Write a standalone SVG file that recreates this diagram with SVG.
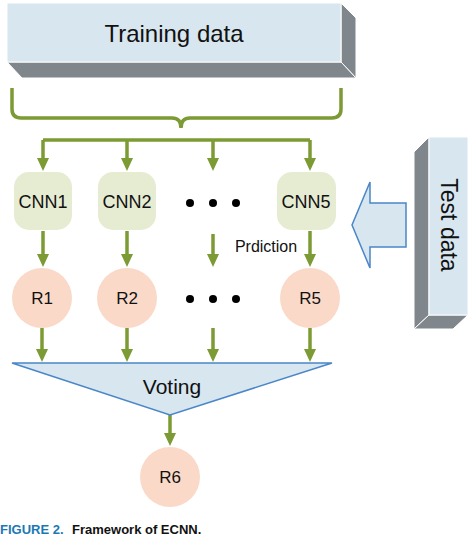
<svg xmlns="http://www.w3.org/2000/svg" width="474" height="540" viewBox="0 0 474 540">
<defs>
<marker id="ah" markerWidth="13" markerHeight="12" refX="0" refY="6" orient="auto" markerUnits="userSpaceOnUse" viewBox="0 0 13 12">
<path d="M0,0 L13,6 L0,12 Z" fill="#7C9B35"/>
</marker>
</defs>
<style>
.t{font-family:"Liberation Sans",Arial,sans-serif;fill:#111;text-anchor:middle}
.g{stroke:#7C9B35;stroke-width:3.5;fill:none}
.face{fill:#D7E6EF;stroke:#fff;stroke-width:1}
.dark{fill:#7F878D;stroke:#fff;stroke-width:1}
.cnn{fill:#E6ECD2}
.res{fill:#FAD9C8}
.blue{fill:#D7E6EF;stroke:#4A86C8;stroke-width:1.5}
</style>
<rect width="474" height="540" fill="#fff"/>

<g id="training-data">
<polygon class="dark" points="341,3 356,18 356,78 341,62"/>
<polygon class="dark" points="7,62 341,62 356,78 22,78"/>
<rect class="face" x="7" y="3" width="334" height="59"/>
<text class="t" x="174" y="42" font-size="24">Training data</text>
</g>

<g id="test-data">
<polygon class="dark" points="414,152 429,137 429,315 414,329"/>
<polygon class="dark" points="429,315 468,315 453,329 414,329"/>
<rect class="face" x="429" y="137" width="39" height="178"/>
<text class="t" transform="translate(441,225) rotate(90)" font-size="23">Test data</text>
</g>

<g id="test-arrow">
<polygon class="blue" points="406,203 370,203 370,182 352,225 370,268 370,247 406,247"/>
</g>

<g id="connectors">
<path class="g" d="M12,88 V109 Q12,118 21,118 H172 Q181,118 181,128 Q181,118 190,118 H332 Q341,118 341,109 V88"/>
<path class="g" d="M43,140 H310"/>
<path class="g" d="M43,140 V158" marker-end="url(#ah)"/>
<path class="g" d="M127,140 V158" marker-end="url(#ah)"/>
<path class="g" d="M213,140 V158" marker-end="url(#ah)"/>
<path class="g" d="M310,140 V158" marker-end="url(#ah)"/>
<path class="g" d="M43,231 V254" marker-end="url(#ah)"/>
<path class="g" d="M127,231 V254" marker-end="url(#ah)"/>
<path class="g" d="M213,234 V254" marker-end="url(#ah)"/>
<path class="g" d="M310,231 V254" marker-end="url(#ah)"/>
<path class="g" d="M42,328 V349" marker-end="url(#ah)"/>
<path class="g" d="M127,328 V349" marker-end="url(#ah)"/>
<path class="g" d="M213,328 V349" marker-end="url(#ah)"/>
<path class="g" d="M310,328 V349" marker-end="url(#ah)"/>
<path class="g" d="M170,415 V433" marker-end="url(#ah)"/>
</g>

<g id="cnn1"><rect class="cnn" x="14" y="172" width="58" height="58" rx="15"/><text class="t" x="43" y="208" font-size="18">CNN1</text></g>
<g id="cnn2"><rect class="cnn" x="98" y="172" width="58" height="58" rx="15"/><text class="t" x="127" y="208" font-size="18">CNN2</text></g>
<g id="cnn-dots"><circle cx="190" cy="203" r="4" fill="#000"/><circle cx="213" cy="203" r="4" fill="#000"/><circle cx="236" cy="203" r="4" fill="#000"/></g>
<g id="cnn5"><rect class="cnn" x="277" y="172" width="59" height="58" rx="15"/><text class="t" x="306" y="208" font-size="18">CNN5</text></g>

<g id="prediction-label"><text class="t" x="266" y="252" font-size="16">Prdiction</text></g>

<g id="r1"><circle class="res" cx="42" cy="298" r="30"/><text class="t" x="42" y="304" font-size="17">R1</text></g>
<g id="r2"><circle class="res" cx="127" cy="298" r="30"/><text class="t" x="127" y="304" font-size="17">R2</text></g>
<g id="r-dots"><circle cx="190" cy="299" r="4" fill="#000"/><circle cx="213" cy="299" r="4" fill="#000"/><circle cx="236" cy="299" r="4" fill="#000"/></g>
<g id="r5"><circle class="res" cx="310" cy="298" r="30"/><text class="t" x="310" y="304" font-size="17">R5</text></g>

<g id="voting"><polygon class="blue" points="12,363 332,363 170,415"/><text class="t" x="172" y="394" font-size="21">Voting</text></g>

<g id="r6"><circle class="res" cx="170" cy="477" r="30"/><text class="t" x="170" y="483" font-size="17">R6</text></g>

<g id="caption">
<text x="0" y="534" font-family="Liberation Sans, Arial, sans-serif" font-size="13" font-weight="bold" fill="#1B78B4">FIGURE 2.</text>
<text x="72" y="534" font-family="Liberation Sans, Arial, sans-serif" font-size="13" font-weight="bold" fill="#111">Framework of ECNN.</text>
</g>
</svg>
